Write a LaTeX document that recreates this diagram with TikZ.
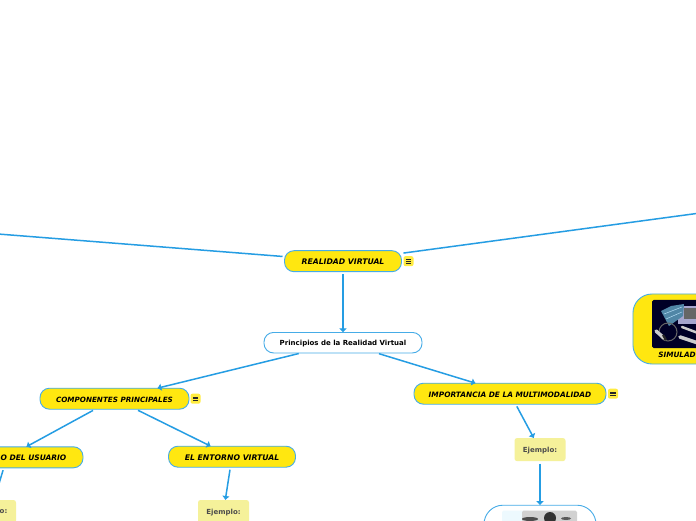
\documentclass[tikz,border=0pt]{standalone}
\usepackage{fontspec}
\setmainfont{DejaVu Sans}
\usetikzlibrary{arrows.meta}
\definecolor{linkblue}{HTML}{259DE3}
\definecolor{topicyellow}{HTML}{FFE710}
\definecolor{notepale}{HTML}{F5F19A}
\tikzset{
  signal/.style={draw=linkblue, line width=1.5pt, shorten <=2.5pt, -{Latex[length=4pt,width=8pt]}},
  plainsignal/.style={draw=linkblue, line width=1.5pt, shorten <=2pt},
  topic/.style={draw=linkblue!85!white, line width=0.9pt, fill=topicyellow, rounded corners=9.5pt,
    minimum height=21pt, inner sep=0pt, outer sep=0pt, text height=7pt, text depth=0pt,
    font=\fontsize{7.2}{8}\selectfont\bfseries\itshape},
  whitetopic/.style={draw=linkblue!85!white, line width=0.9pt, fill=white, rounded corners=9.5pt,
    minimum height=20.5pt, inner sep=0pt, outer sep=0pt, text height=7pt, text depth=1pt,
    font=\fontsize{7}{8}\selectfont\bfseries},
  example/.style={fill=notepale, rounded corners=2.5pt, minimum width=51pt, minimum height=23pt,
    inner sep=0pt, outer sep=0pt, text=black!70, text height=6.5pt, text depth=1pt,
    font=\fontsize{7}{8}\selectfont\bfseries},
  notemark/.style={fill=topicyellow!80!white, rounded corners=2pt, minimum size=10pt, inner sep=0pt}
}
\newcommand{\notelines}[1]{%
  \foreach \yy in {-1.8pt,0pt,1.8pt}
    \draw[black!85, line width=0.5pt] ([xshift=-2.7pt,yshift=\yy]#1.center) -- ([xshift=2.7pt,yshift=\yy]#1.center);
}
\begin{document}
\begin{tikzpicture}[x=1pt,y=1pt]
  \useasboundingbox (0,0) rectangle (696,520);
  \clip (0,0) rectangle (696,520);
  \fill[white] (0,0) rectangle (696,520);
  % free ends of the two long links
  \coordinate (offleft) at (-2,286);
  \coordinate (offright) at (698,306.7);
  % topics
  \node[topic, minimum width=117pt, font=\fontsize{7.7}{8}\selectfont\bfseries\itshape] (realidad) at (343,258.8) {REALIDAD VIRTUAL};
  \node[whitetopic, minimum width=158pt] (principios) at (343,177.3) {Principios de la Realidad Virtual};
  \node[topic, minimum width=149pt] (componentes) at (114.5,121.3) {COMPONENTES PRINCIPALES};
  \node[topic, minimum width=192pt, font=\fontsize{7.4}{8}\selectfont\bfseries\itshape] (importancia) at (510,126.3) {IMPORTANCIA DE LA MULTIMODALIDAD};
  \node[topic, minimum width=127pt, font=\fontsize{7.7}{8}\selectfont\bfseries\itshape] (entorno) at (232,63.3) {EL ENTORNO VIRTUAL};
  \node[topic, minimum width=152pt] (usuario) at (7,62.7) {};
  \node[anchor=east, inner sep=0pt, font=\fontsize{7.5}{8}\selectfont\bfseries\itshape] (usuariotext) at (66.5,62) {O DEL USUARIO};
  % examples
  \node[example] (ejemploa) at (540,70.4) {Ejemplo:};
  \node[example] (ejemplob) at (223.5,8.5) {Ejemplo:};
  \node[example] (ejemploc) at (-9.5,8.5) {};
  \node[anchor=east, inner sep=0pt, text=black!70, font=\fontsize{7}{8}\selectfont\bfseries] (ejemploctext) at (7.5,8.5) {o:};
  % note marks
  \node[notemark] (notea) at (408.5,258.8) {}; \notelines{notea}
  \node[notemark] (noteb) at (195.5,121.3) {}; \notelines{noteb}
  \node[notemark] (notec) at (613,126.3) {}; \notelines{notec}
  % picture topics
  \node[draw=linkblue!85!white, line width=0.9pt, fill=topicyellow, rounded corners=19pt, anchor=west,
    minimum width=100pt, minimum height=70pt] (simulador) at (632.5,191) {};
  \fill[black!85!blue, rounded corners=1.5pt] (652,220) rectangle (702,172);
  \fill[black!55!blue!35!white] (678,214) rectangle (702,196);
  \fill[linkblue!60!black!75!white] (661,209) -- (671,214) -- (684,216) -- (683,204) -- (669,194) -- cycle;
  \draw[linkblue!35!white, line width=0.5pt] (664,206) -- (682,213) (666,201) -- (682,208);
  \fill[black!60] (684,212) rectangle (696,201);
  \draw[black!60, line width=1pt] (668,188) circle (9pt);
  \draw[black!20, line width=3.5pt, line cap=round] (656,189) -- (664,182);
  \draw[black!85, line width=2.2pt] (663,185) -- (666,180);
  \draw[black!20, line width=3.5pt, line cap=round] (698,177) -- (680,183);
  \draw[black!20, line width=2.5pt, line cap=round] (698,187) -- (682,193);
  \node[anchor=east, inner sep=0pt, font=\fontsize{7.3}{8}\selectfont\bfseries\itshape] (simlabel) at (696,165) {SIMULAD};
  \node[draw=linkblue!85!white, line width=0.9pt, fill=white, rounded corners=19pt, anchor=north,
    minimum width=112pt, minimum height=60pt, outer sep=0pt] (fotobox) at (540,14.8) {};
  \fill[cyan!7, rounded corners=1.5pt] (502,-2) rectangle (530,9.3);
  \fill[black!18, rounded corners=1.5pt] (522,-2) rectangle (577,9.3);
  \fill[black!80] (550,2) circle (6pt);
  \fill[black!70] (530,1) ellipse (8pt and 2pt);
  \fill[black!65] (566,1.5) ellipse (5pt and 1.5pt);
  % links
  \draw[plainsignal] (realidad) -- (offleft);
  \draw[plainsignal] (realidad) -- (offright);
  \draw[signal] (realidad) -- (principios);
  \draw[signal] (principios) -- (componentes);
  \draw[signal] (principios) -- (importancia);
  \draw[signal] (componentes) -- (usuario);
  \draw[signal] (componentes) -- (entorno);
  \draw[signal] (importancia) -- (ejemploa);
  \draw[signal] (entorno) -- (ejemplob);
  \draw[signal] (ejemploa) -- (fotobox);
  \draw[signal] (usuario) -- (ejemploc);
\end{tikzpicture}
\end{document}
